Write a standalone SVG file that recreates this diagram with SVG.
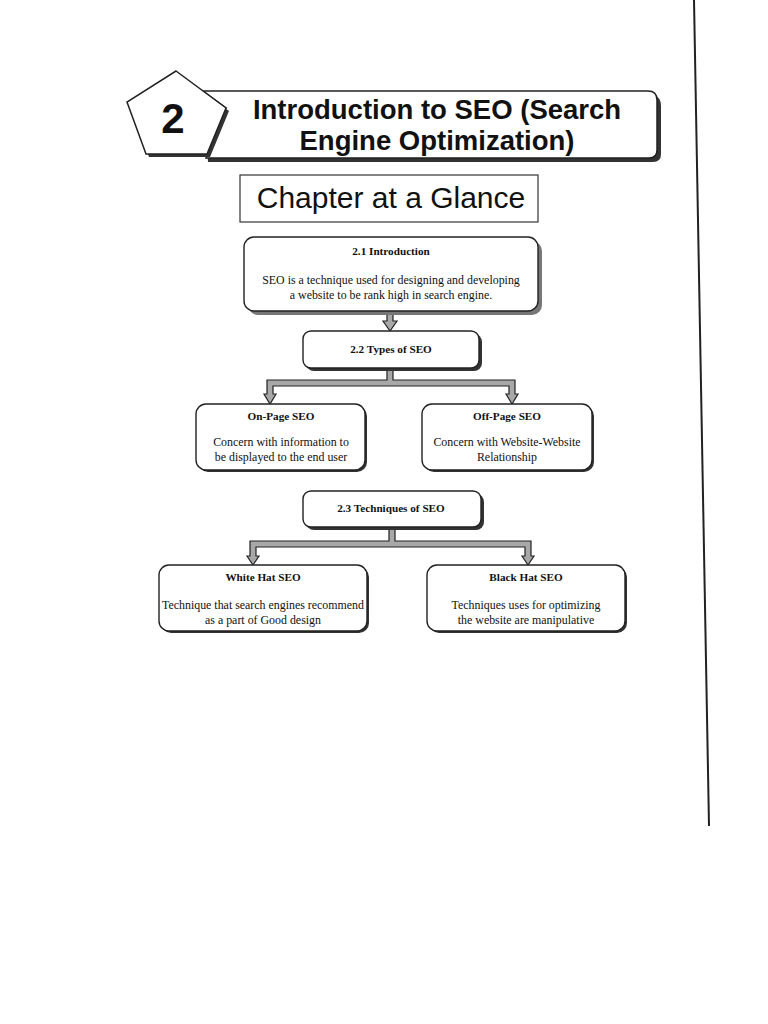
<svg xmlns="http://www.w3.org/2000/svg" width="768" height="1024" viewBox="0 0 768 1024">
<style>
.box{fill:#fff;stroke:#222;stroke-width:1.4}
.shadow{fill:#333}
.conn{fill:#a8a8a8;stroke:#222;stroke-width:1.2;stroke-linejoin:miter}
.t{font-family:"Liberation Serif","Times New Roman",serif;font-size:11.9px;fill:#111;text-anchor:middle}
.h{font-family:"Liberation Serif","Times New Roman",serif;font-size:11.2px;font-weight:bold;fill:#111;text-anchor:middle}
.big{font-family:"Liberation Sans",Arial,sans-serif;font-weight:bold;fill:#111;text-anchor:middle}
</style>
<rect width="768" height="1024" fill="#fff"/>
<line x1="694" y1="0" x2="709" y2="826" stroke="#222" stroke-width="2"/>

<g id="chapter-banner">
  <path d="M203,95 L650,95 Q661,95 661,106 L661,154 Q661,162 653,162 L208,162 Z" class="shadow"/>
  <path d="M203,91 L648,91 Q657,91 657,100 L657,150 Q657,158 649,158 L206,158 L226,108 Z" fill="#fff" stroke="#222" stroke-width="1.5"/>
  <text x="437" y="119" class="big" font-size="27.5">Introduction to SEO (Search</text>
  <text x="437" y="150" class="big" font-size="27.5">Engine Optimization)</text>
</g>
<g id="chapter-number">
  <polygon points="176,74 229,111 210,157 149,157 130,105" class="shadow"/>
  <polygon points="176,71 226,108 207,154 146,154 127,102" fill="#fff" stroke="#222" stroke-width="1.5"/>
  <text x="173" y="133" class="big" font-size="42">2</text>
</g>

<g id="glance-title">
  <rect x="240" y="175" width="298" height="47" fill="#fff" stroke="#333" stroke-width="1.2"/>
  <text x="391" y="208" font-family="Liberation Sans,Arial,sans-serif" font-size="30" fill="#111" text-anchor="middle">Chapter at a Glance</text>
</g>

<g id="connectors">
  <polygon class="conn" points="387,311 393,311 393,321 397,321 390,331 383,321 387,321"/>
  <polygon class="conn" points="387,368 393,368 393,380 515,380 515,394 518,394 512,404 506,394 509,394 509,386 273,386 273,394 276,394 270,404 264,394 267,394 267,380 387,380"/>
  <polygon class="conn" points="389,527 395,527 395,541 531,541 531,556 534,556 528,565 522,556 525,556 525,547 256,547 256,556 259,556 253,565 247,556 250,556 250,541 389,541"/>
</g>

<g id="introduction">
  <rect x="248" y="241" width="294" height="74" rx="10" fill="#777"/>
  <rect x="244" y="237" width="294" height="74" rx="10" class="box"/>
  <text x="391" y="255" class="h">2.1  Introduction</text>
  <text x="391" y="284" class="t">SEO is a technique used for designing and developing</text>
  <text x="391" y="299" class="t">a website to be rank high in search engine.</text>
</g>

<g id="types">
  <rect x="306" y="334" width="176" height="37" rx="8" class="shadow"/>
  <rect x="303" y="331" width="176" height="37" rx="8" class="box"/>
  <text x="391" y="353" class="h">2.2  Types of SEO</text>
</g>

<g id="on-page">
  <rect x="198" y="406" width="169" height="66" rx="10" class="shadow"/>
  <rect x="196" y="404" width="169" height="66" rx="10" class="box"/>
  <text x="281" y="420" class="h">On-Page SEO</text>
  <text x="281" y="446" class="t">Concern with information to</text>
  <text x="281" y="461" class="t">be displayed to the end user</text>
</g>

<g id="off-page">
  <rect x="424" y="406" width="170" height="66" rx="10" class="shadow"/>
  <rect x="422" y="404" width="170" height="66" rx="10" class="box"/>
  <text x="507" y="420" class="h">Off-Page SEO</text>
  <text x="507" y="446" class="t">Concern with Website-Website</text>
  <text x="507" y="461" class="t">Relationship</text>
</g>

<g id="techniques">
  <rect x="306" y="494" width="178" height="36" rx="8" class="shadow"/>
  <rect x="303" y="491" width="178" height="36" rx="8" class="box"/>
  <text x="391" y="512" class="h">2.3  Techniques of SEO</text>
</g>

<g id="white-hat">
  <rect x="161" y="567" width="208" height="66" rx="10" class="shadow"/>
  <rect x="159" y="565" width="208" height="66" rx="10" class="box"/>
  <text x="263" y="581" class="h">White Hat SEO</text>
  <text x="263" y="609" class="t">Technique that search engines recommend</text>
  <text x="263" y="624" class="t">as a part of Good design</text>
</g>

<g id="black-hat">
  <rect x="429" y="567" width="198" height="66" rx="10" class="shadow"/>
  <rect x="427" y="565" width="198" height="66" rx="10" class="box"/>
  <text x="526" y="581" class="h">Black Hat SEO</text>
  <text x="526" y="609" class="t">Techniques uses for optimizing</text>
  <text x="526" y="624" class="t">the website are manipulative</text>
</g>
</svg>
